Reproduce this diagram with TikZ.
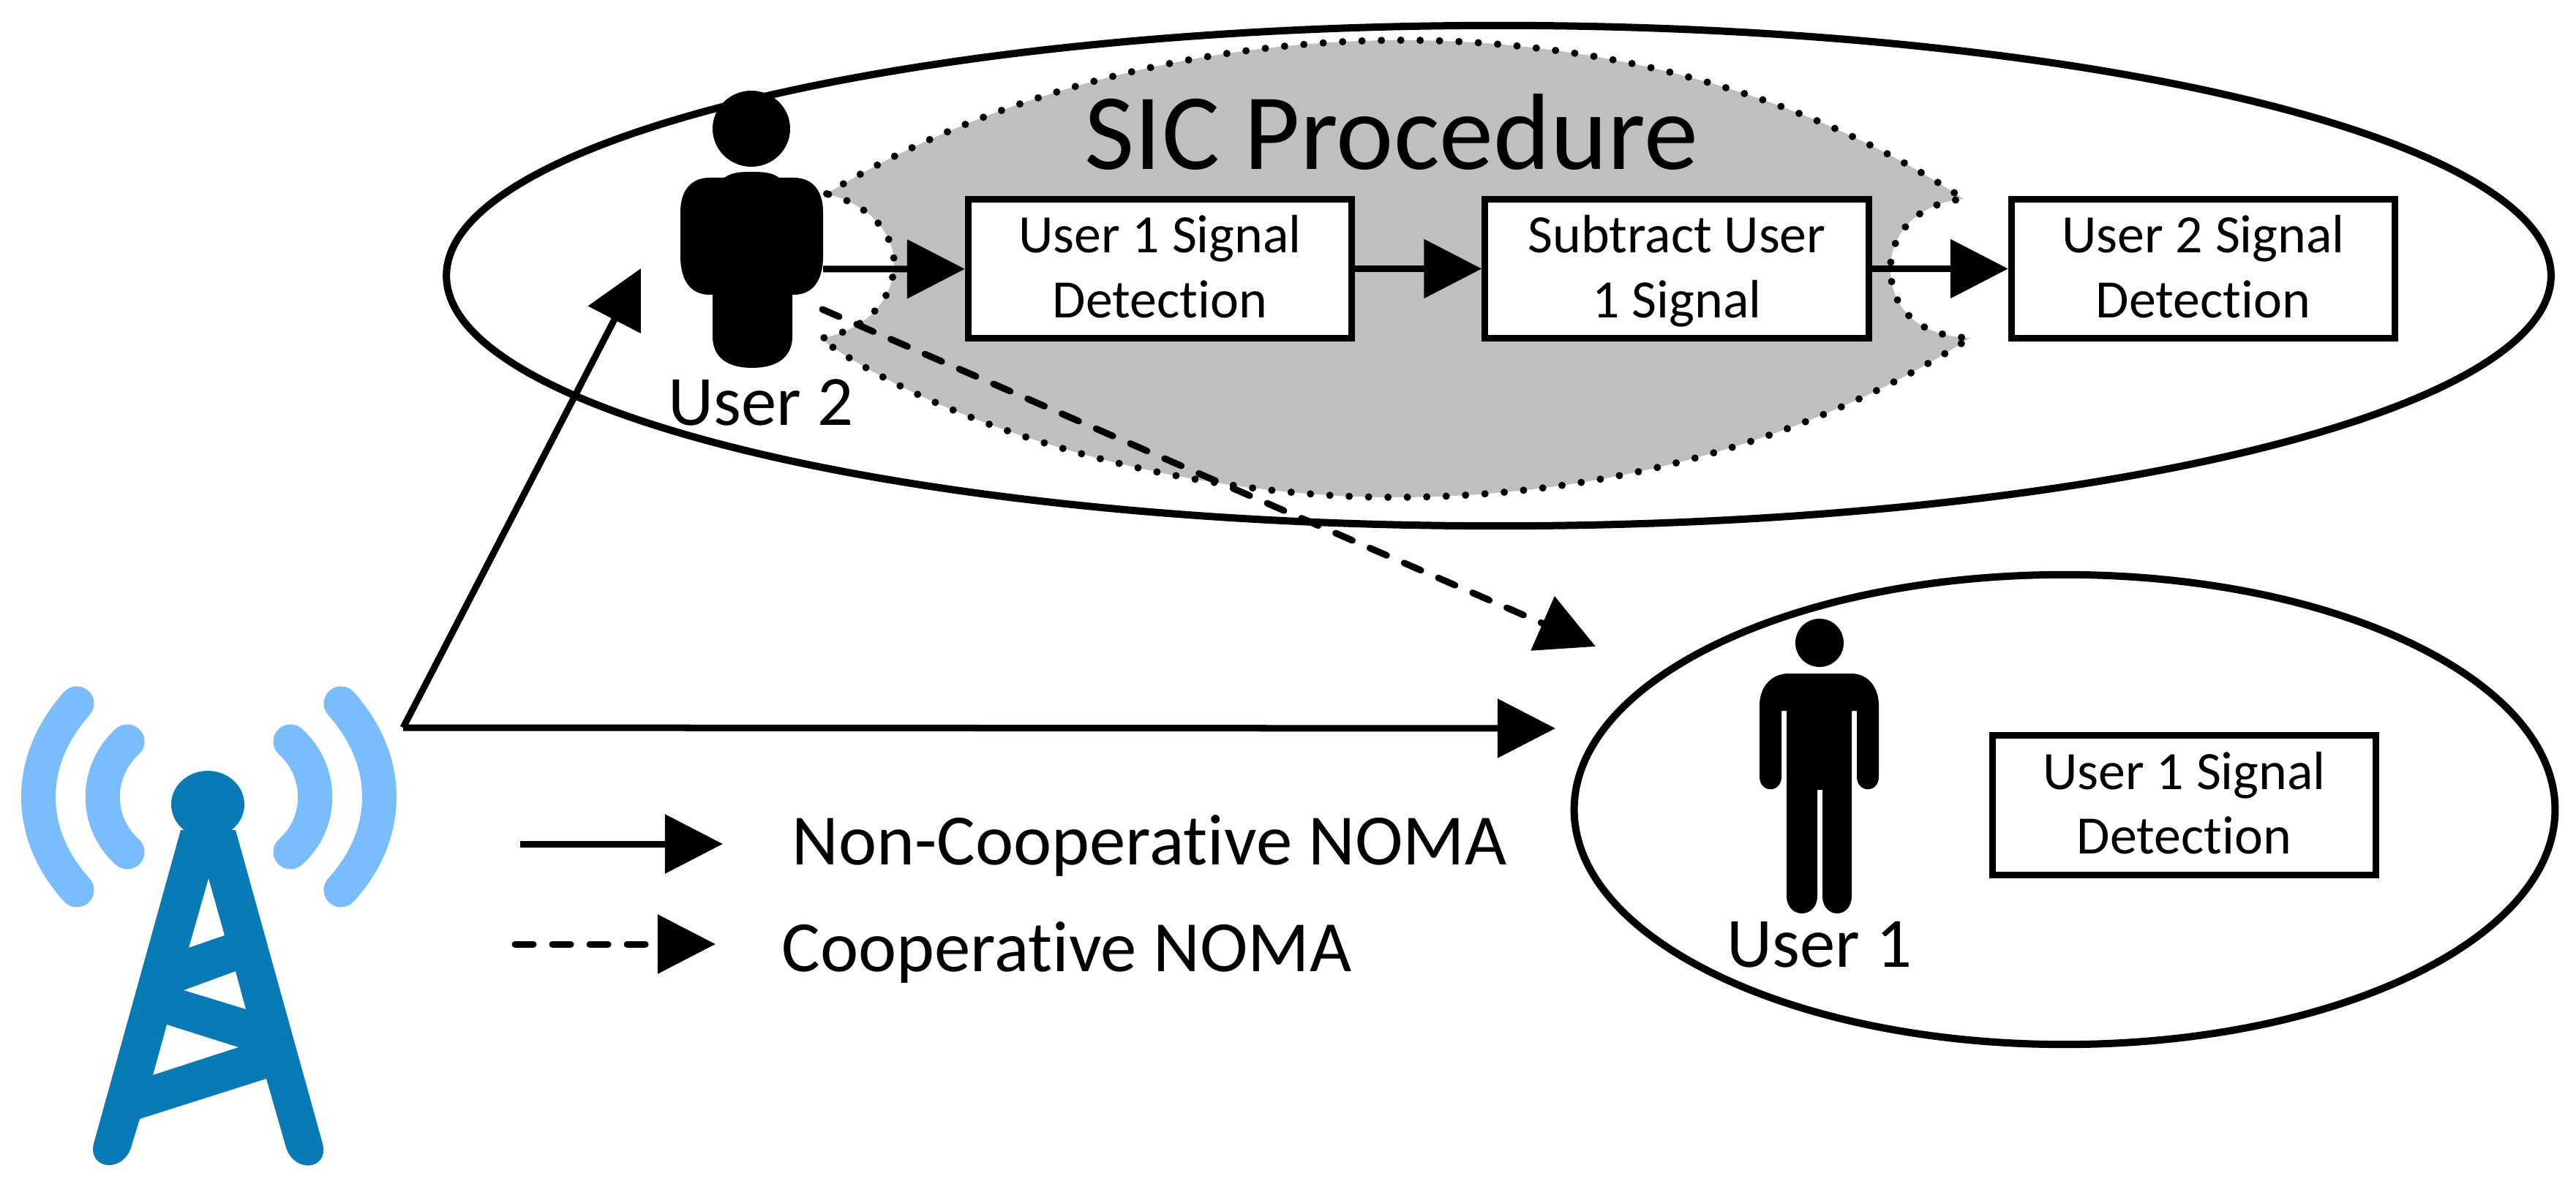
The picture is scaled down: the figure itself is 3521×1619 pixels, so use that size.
\documentclass[tikz,border=0pt]{standalone}
\usepackage{fontspec}
\setmainfont{Carlito}[Ligatures=NoCommon]
\usetikzlibrary{arrows.meta,shapes.geometric}
\definecolor{towerblue}{HTML}{087BB6}
\definecolor{waveblue}{HTML}{7ABDFF}
\definecolor{sicgrey}{HTML}{BFBFBF}
\newcommand{\boxstrut}{\rule[-3.5pt]{0pt}{19.8pt}}
\begin{document}
\begin{tikzpicture}[x=0.01cm,y=-0.01cm]
\tikzstyle{sigbox}=[draw,fill=white,line width=0.09cm,minimum width=5.24cm,minimum height=1.9cm,inner sep=0pt,align=center,font=\fontsize{21}{25.3}\selectfont]
\tikzstyle{cell}=[draw,ellipse,line width=0.1cm,inner sep=0pt]
\tikzstyle{sigarrow}=[-{Triangle[length=7.9mm,width=7.9mm]},line width=0.09cm]
\tikzstyle{coop}=[sigarrow,line cap=round,dash pattern=on 2.5mm off 2.6mm]
\tikzstyle{wave}=[waveblue,line width=0.47cm,line cap=round]
\tikzstyle{userlabel}=[inner sep=0pt,anchor=base,font=\fontsize{27.5}{30}\selectfont]
\tikzstyle{legendlabel}=[inner sep=0pt,anchor=base west,font=\fontsize{28.1}{30}\selectfont]
    \useasboundingbox (0,0) rectangle (3521,1619);
    \node [cell,minimum width=28.75cm,minimum height=6.84cm] (far) at (2048.5,377) {};
    \node [cell,minimum width=13.4cm,minimum height=6.42cm] (near) at (2822,1107) {};
    \fill [sicgrey] (1130,265) .. controls (1350,130) and (1640,55) .. (1916,55) .. controls (2200,55) and (2470,130) .. (2684,272) .. controls (2620,278) and (2584,320) .. (2584,367) .. controls (2584,420) and (2620,460) .. (2693,462) .. controls (2480,600) and (2200,680) .. (1906,680) .. controls (1620,680) and (1300,590) .. (1121,463) .. controls (1190,450) and (1222,405) .. (1222,360) .. controls (1222,320) and (1190,280) .. (1130,265) -- cycle;
    \draw [line width=0.1cm,line cap=round,dash pattern=on 0pt off 2.65mm] (1130,265) .. controls (1350,130) and (1640,55) .. (1916,55) .. controls (2200,55) and (2470,130) .. (2684,272) .. controls (2620,278) and (2584,320) .. (2584,367) .. controls (2584,420) and (2620,460) .. (2693,462) .. controls (2480,600) and (2200,680) .. (1906,680) .. controls (1620,680) and (1300,590) .. (1121,463) .. controls (1190,450) and (1222,405) .. (1222,360) .. controls (1222,320) and (1190,280) .. (1130,265);
    \node [inner sep=0pt,anchor=base,font=\fontsize{42.2}{46}\selectfont] (sictitle) at (1902,232) {SIC Procedure};
    \node [sigbox] (detecta) at (1585.5,367.5) {\boxstrut User 1 Signal\\Detection\boxstrut};
    \node [sigbox] (subtract) at (2292,367.5) {\boxstrut Subtract User\\1 Signal\boxstrut};
    \node [sigbox] (detectb) at (3011.5,367.5) {\boxstrut User 2 Signal\\Detection\boxstrut};
    \node [sigbox] (detectc) at (2985.5,1101) {\boxstrut User 1 Signal\\Detection\boxstrut};
    \fill (1027,176) ellipse [x radius=53,y radius=52];
    \fill (930,290) .. controls (930,260) and (945,243) .. (970,243) -- (990,243) .. controls (1000,236) and (1010,235) .. (1027,235) .. controls (1045,235) and (1055,236) .. (1065,243) -- (1085,243) .. controls (1110,243) and (1125,260) .. (1125,290) -- (1125,350) .. controls (1125,385) and (1110,403) .. (1085,403) -- (1083,403) -- (1083,460) .. controls (1083,490) and (1060,503) .. (1028,503) .. controls (996,503) and (974,490) .. (974,460) -- (974,403) -- (970,403) .. controls (945,403) and (930,385) .. (930,350) -- cycle;
    \fill (2487,879) ellipse [x radius=33,y radius=33];
    \fill (2405,1062) -- (2405,965) .. controls (2405,938) and (2422,921) .. (2445,921) -- (2530,921) .. controls (2552,921) and (2568,938) .. (2568,965) -- (2568,1062) .. controls (2568,1085) and (2538,1085) .. (2538,1062) -- (2538,972) -- (2531,972) -- (2531,1225) .. controls (2531,1257) and (2491,1257) .. (2491,1225) -- (2491,1080) -- (2484,1080) -- (2484,1225) .. controls (2484,1257) and (2442,1257) .. (2442,1225) -- (2442,972) -- (2435,972) -- (2435,1062) .. controls (2435,1085) and (2405,1085) .. (2405,1062) -- cycle;
    \node [userlabel] (labelb) at (1040,582) {User 2};
    \node [userlabel] (labela) at (2487,1322) {User 1};
    \draw [wave] (105,962) .. controls (35,1040) and (35,1140) .. (105,1217);
    \draw [wave] (174,1014) .. controls (129,1055) and (129,1125) .. (174,1165);
    \draw [wave] (397,1014) .. controls (442,1055) and (442,1125) .. (397,1165);
    \draw [wave] (466,962) .. controls (536,1040) and (536,1140) .. (466,1217);
    \fill [towerblue] (284,1100) ellipse [x radius=50,y radius=46];
    \fill [towerblue,even odd rule] (247,1135) -- (128,1564) .. controls (120,1600) and (170,1605) .. (180,1566) -- (191,1530) -- (364,1475) -- (391,1569) .. controls (402,1605) and (450,1600) .. (441,1564) -- (322,1135) -- cycle (285,1201) -- (307,1279) -- (258,1296) -- cycle (322,1328) -- (336,1380) -- (251,1354) -- cycle (228,1401) -- (326,1432) -- (209,1470) -- cycle;
    \coordinate (antenna) at (551,995);
    \coordinate (farin) at (876,367);
    \coordinate (nearin) at (2126,996);
    \coordinate (farout) at (1125,368);
    \coordinate (relayout) at (1124,423);
    \coordinate (relayin) at (2181,884);
    \coordinate (solidfrom) at (711,1154);
    \coordinate (solidto) at (988,1154);
    \coordinate (dashfrom) at (704,1291);
    \coordinate (dashto) at (978,1291);
    \draw [sigarrow] (antenna) to (farin);
    \draw [sigarrow] (antenna) to (nearin);
    \draw [sigarrow] (farout) to (detecta);
    \draw [sigarrow] (detecta) to (subtract);
    \draw [sigarrow] (subtract) to (detectb);
    \draw [coop] (relayout) to (relayin);
    \draw [sigarrow] (solidfrom) to (solidto);
    \draw [coop] (dashfrom) to (dashto);
    \node [legendlabel] (legendsolid) at (1082,1182) {Non-Cooperative NOMA};
    \node [legendlabel] (legenddash) at (1068,1328) {Cooperative NOMA};
\end{tikzpicture}
\end{document}
